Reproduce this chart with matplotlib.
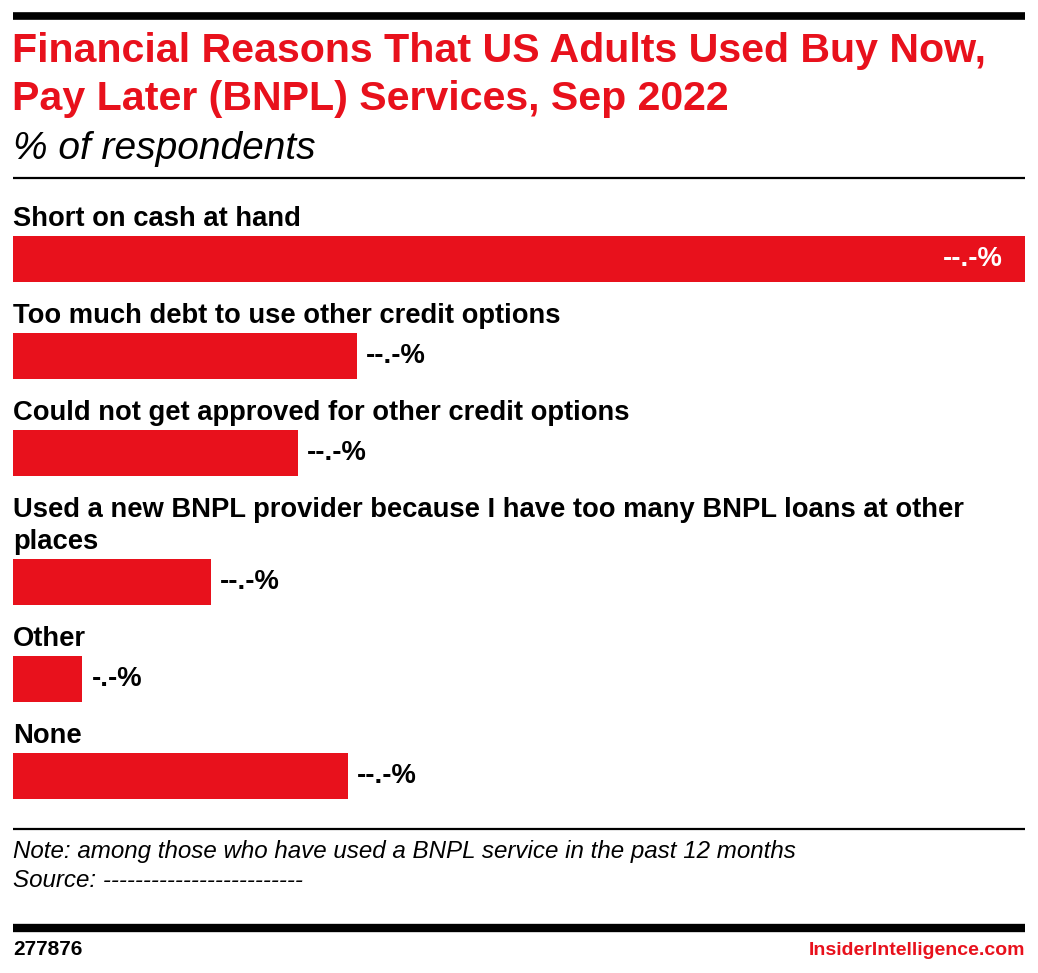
import matplotlib
matplotlib.use("Agg")
import matplotlib.pyplot as plt
from matplotlib.lines import Line2D

categories = [
    "Short on cash at hand",
    "Too much debt to use other credit options",
    "Could not get approved for other credit options",
    "Used a new BNPL provider because I have too many BNPL loans at other\nplaces",
    "Other",
    "None",
]
values = [58.3, 19.8, 16.4, 11.4, 4.0, 19.3]
value_labels = ["--.-%", "--.-%", "--.-%", "--.-%", "-.-%", "--.-%"]

title = "Financial Reasons That US Adults Used Buy Now,\nPay Later (BNPL) Services, Sep 2022"
subtitle = "% of respondents"
note = "Note: among those who have used a BNPL service in the past 12 months"
source = "Source: -------------------------"
chart_id = "277876"
brand = "InsiderIntelligence.com"

RED = "#E8111C"
W, H = 1038, 973
DPI = 100
FONT = "Liberation Sans"

fig = plt.figure(figsize=(W / DPI, H / DPI), dpi=DPI)
fig.patch.set_facecolor("white")

def px(x, y):
    return x / W, 1 - y / H

def hline(y, lw, color="black"):
    fig.add_artist(Line2D([13 / W, 1025 / W], [1 - y / H, 1 - y / H], color=color, lw=lw,
                          transform=fig.transFigure, solid_capstyle="butt"))

# header
hline(15.5, 5.5)
t1, t2 = title.split("\n")
fig.text(*px(12, 62), t1, color=RED, fontsize=29.6, fontweight="bold",
         family=FONT, va="baseline", ha="left")
fig.text(*px(12, 110), t2, color=RED, fontsize=29.6, fontweight="bold",
         family=FONT, va="baseline", ha="left")
fig.text(*px(13, 159), subtitle, color="black", fontsize=28, style="italic",
         family=FONT, va="baseline", ha="left")
hline(178, 1.6)

# bars area in pixel units
top, bottom = 180, 820
ax = fig.add_axes([13 / W, 1 - bottom / H, (1025 - 13) / W, (bottom - top) / H])
ax.set_xlim(0, max(values))
ax.set_ylim(bottom, top)
ax.axis("off")

bar_h = 46
slot = 97
line_extra = 32
y = 236  # first bar top
for cat, v, lab in zip(categories, values, value_labels):
    nlines = cat.count("\n") + 1
    y += line_extra * (nlines - 1)
    center = y + bar_h / 2
    ax.barh(center, v, height=bar_h, color=RED, left=0)
    lines = cat.split("\n")
    for i, ln in enumerate(lines):
        base = y - 10 - (nlines - 1 - i) * 32
        ax.text(0, base, ln, fontsize=19.7, fontweight="bold", family=FONT,
                va="baseline", ha="left", color="black")
    if v >= max(values) * 0.9:
        ax.annotate(lab, (v, center), xytext=(-22, 0), textcoords="offset pixels",
                    fontsize=19.7, family=FONT, color="white", va="center", ha="right",
                    fontweight="bold")
    else:
        ax.annotate(lab, (v, center), xytext=(9, 0), textcoords="offset pixels",
                    fontsize=19.7, family=FONT, color="black", va="center", ha="left",
                    fontweight="bold")
    y += slot

# footer
hline(829, 1.6)
fig.text(*px(13, 858), note, fontsize=17.4, style="italic", family=FONT, va="baseline", ha="left")
fig.text(*px(13, 887), source, fontsize=17.4, style="italic", family=FONT, va="baseline", ha="left")
hline(927.5, 6)
fig.text(*px(13, 955), chart_id, fontsize=15, fontweight="bold", family=FONT, va="baseline", ha="left")
fig.text(*px(1025, 955), brand, fontsize=14, fontweight="bold", family=FONT, color=RED,
         va="baseline", ha="right")

fig.savefig("out.png", dpi=DPI, facecolor="white")
